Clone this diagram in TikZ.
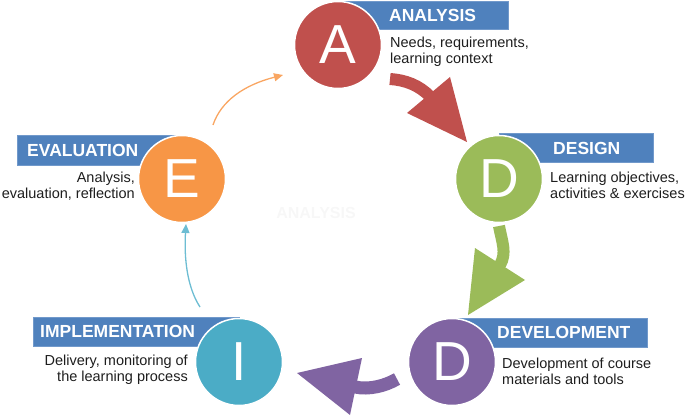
\documentclass[tikz,border=0pt]{standalone}
\usepackage{fontspec}
\setmainfont{Liberation Sans}
\usetikzlibrary{arrows.meta}
\definecolor{cA}{HTML}{C0504D}
\definecolor{cD}{HTML}{9BBB59}
\definecolor{cV}{HTML}{8064A2}
\definecolor{cI}{HTML}{4BACC6}
\definecolor{cE}{HTML}{F79646}
\definecolor{cIl}{HTML}{6DBDD3}
\definecolor{cEl}{HTML}{F9A662}
\definecolor{bann}{HTML}{4F81BD}
\definecolor{bannedge}{HTML}{7199CB}
\definecolor{ghost}{HTML}{F7F7F7}
\definecolor{desccol}{HTML}{1E1E1E}
\begin{document}
\begin{tikzpicture}[x=1pt,y=-1pt,
  phase/.style={circle,inner sep=0pt,minimum size=87pt,draw=white,line width=1.5pt,
    text=white,font=\fontsize{55}{55}\selectfont},
  banner/.style={fill=bann,draw=bannedge,line width=0.6pt},
  bantext/.style={text=white,font=\fontsize{17.5}{18}\selectfont\bfseries,inner sep=0pt,anchor=west},
  desc/.style={font=\fontsize{14.5}{16}\selectfont,inner sep=0pt,text=desccol},
  fat/.style={line width=12pt},
  thinarr/.style={line width=1.3pt,-{Triangle[length=9pt,width=8pt]}}]
\useasboundingbox (0,0) rectangle (685,417);

% faint ghost text
\node[font=\fontsize{16}{16}\selectfont\bfseries,text=ghost,inner sep=0pt] (ghost) at (316,213) {ANALYSIS};

% banners
\path[banner] (338,1) rectangle (508,29);
\path[banner] (499,133) rectangle (653,162);
\path[banner] (452,318) rectangle (647,347);
\path[banner] (33,317) rectangle (239,346);
\path[banner] (17,135) rectangle (182,165);

\node[bantext] (tA) at (389,15.5) {ANALYSIS};
\node[bantext] (tD) at (553,148.5) {DESIGN};
\node[bantext] (tV) at (497,332.5) {DEVELOPMENT};
\node[bantext] (tI) at (40,331.5) {IMPLEMENTATION};
\node[bantext] (tE) at (27,150.5) {EVALUATION};

% circles
\node[phase,fill=cA] (A) at (338,45) {A};
\node[phase,fill=cD] (D) at (499,179) {D};
\node[phase,fill=cV] (V) at (452,362) {D};
\node[phase,fill=cI] (I) at (239,362) {I};
\node[phase,fill=cE] (E) at (182,179) {E};

% descriptions
\node[desc,anchor=north west,align=left] (dA) at (390,36.4) {Needs, requirements,\\learning context};
\node[desc,anchor=north west,align=left] (dD) at (550,171.4) {Learning objectives,\\activities \& exercises};
\node[desc,anchor=north west,align=left] (dV) at (502,357.4) {Development of course\\materials and tools};
\node[desc,anchor=north east,align=right] (dI) at (188,354.4) {Delivery, monitoring of\\the learning process};
\node[desc,anchor=north east,align=right] (dE) at (135,171.4) {Analysis,\\evaluation, reflection};

% red arrow A -> D
\coordinate (rs) at (390,79);
\coordinate (rb) at (430,96.5);
\fill[cA] (450,77) -- (467,142) -- (407,113) -- cycle;
\draw[cA,fat] (rs) .. controls (405,80) and (419,85) .. (rb);

% green arrow D -> Development
\coordinate (gs) at (499,226);
\coordinate (gb) at (500,265);
\fill[cD] (475,248) -- (525,280) -- (468,315) -- cycle;
\draw[cD,fat] (gs) .. controls (502,242) and (507,253) .. (gb);

% purple arrow Development -> I
\coordinate (ps) at (397,379);
\coordinate (pb) at (355,387);
\fill[cV] (362,358) -- (297,373) -- (350,415) -- cycle;
\draw[cV,line width=13pt] (ps) .. controls (385,386) and (369,390) .. (pb);

% thin blue arrow I -> E
\coordinate (bt) at (200,307);
\coordinate (bh) at (186,224);
\draw[thinarr,cIl] (bt) .. controls (187,287) and (184,258) .. (bh);

% thin orange arrow E -> A
\coordinate (ot) at (213,125);
\coordinate (oh) at (283,75);
\draw[thinarr,cEl] (ot) .. controls (221,101) and (244,85) .. (oh);
\end{tikzpicture}
\end{document}
